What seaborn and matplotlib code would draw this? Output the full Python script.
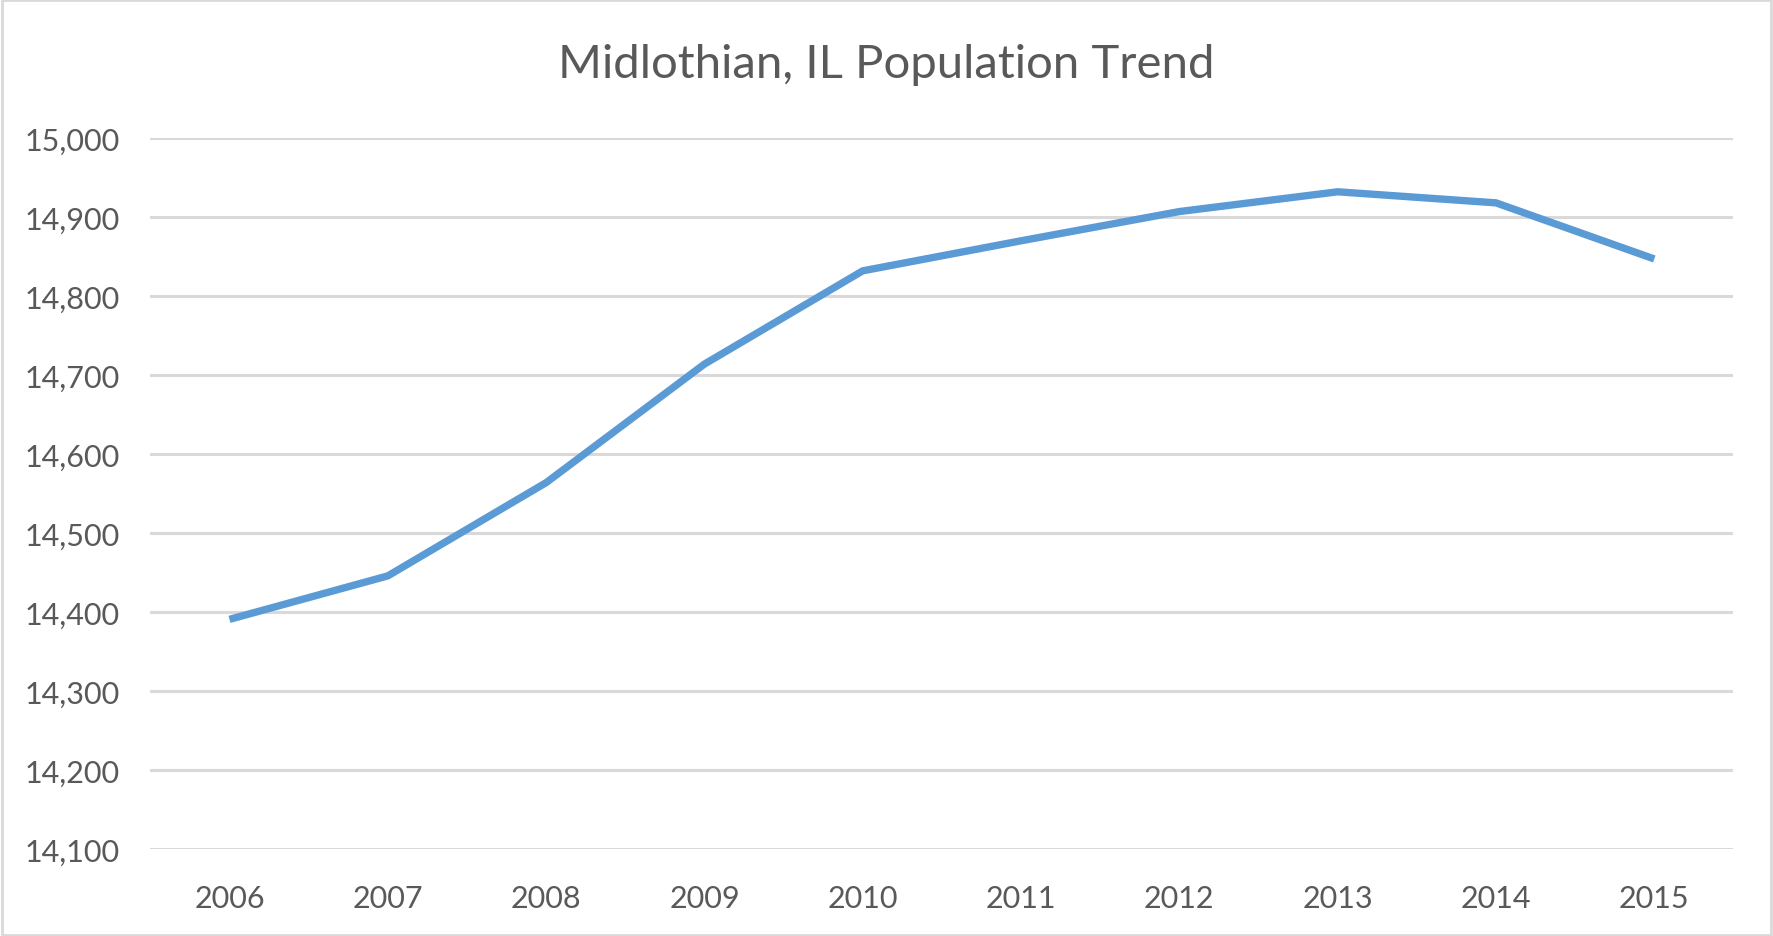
import matplotlib
matplotlib.use("Agg")
import matplotlib.pyplot as plt
import matplotlib.ticker as mticker
import seaborn as sns
import pandas as pd

# 1. Datos
years = ["2006", "2007", "2008", "2009", "2010", "2011", "2012", "2013", "2014", "2015"]
population = [14391, 14446, 14564, 14714, 14832, 14870, 14907, 14932, 14918, 14847]
y_ticks = [14100, 14200, 14300, 14400, 14500, 14600, 14700, 14800, 14900, 15000]
title = "Midlothian, IL Population Trend"

df = pd.DataFrame({"Year": years, "Population": population})

# 2. Estilo
sns.set_style("white")
plt.rcParams["font.family"] = ["Lato", "DejaVu Sans"]
text_color = "#595959"
grid_color = "#D9D9D9"
line_color = "#5B9BD5"

fig = plt.figure(figsize=(17.73, 9.37), dpi=100)
ax = fig.add_axes([0.0848, 0.0925, 0.8929, 0.7591])

sns.lineplot(data=df, x="Year", y="Population", color=line_color,
             linewidth=5.3, sort=False, ax=ax)
ax.lines[0].set_solid_capstyle("butt")

# 3. Ejes
ax.set_xlim(-0.5, len(years) - 0.5)
ax.set_ylim(y_ticks[0], y_ticks[-1])
ax.set_yticks(y_ticks)
ax.yaxis.set_major_formatter(mticker.FuncFormatter(lambda v, p: f"{int(v):,}"))
ax.grid(axis="y", color=grid_color, linewidth=2.2)
ax.set_axisbelow(True)
for side in ["top", "right", "left", "bottom"]:
    ax.spines[side].set_visible(False)
ax.tick_params(axis="both", length=0, labelsize=22, colors=text_color)
ax.tick_params(axis="y", pad=22)
ax.tick_params(axis="x", pad=25)
ax.set_xlabel("")
ax.set_ylabel("")

fig.text(0.5, 0.931, title, ha="center", va="center", fontsize=34, color=text_color)

# Borde exterior del grafico
fig.patches.append(plt.Rectangle((0.001, 0.001), 0.998, 0.998, transform=fig.transFigure,
                                 fill=False, edgecolor=grid_color, linewidth=2))

plt.savefig("out.png", dpi=100)
plt.close()
